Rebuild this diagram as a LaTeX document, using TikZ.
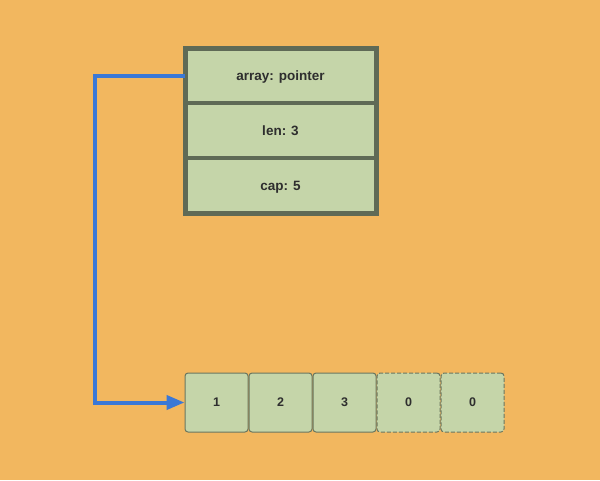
\documentclass[tikz,border=0pt]{standalone}
\usepackage{fontspec}
\setmainfont{Liberation Sans}
\usepackage{xcolor}
\usetikzlibrary{arrows.meta}
\definecolor{sfondo}{HTML}{F2B75F}
\definecolor{verde}{HTML}{C5D5A9}
\definecolor{bordo}{HTML}{5F6A56}
\definecolor{bordocella}{HTML}{6A765F}
\definecolor{blu}{HTML}{3B78D6}
\definecolor{testo}{HTML}{2E2E2E}
\tikzset{
	campo/.style={draw=bordo, fill=verde, line width=4pt, outer sep=0pt,
		minimum width=191pt, minimum height=55pt, inner sep=0pt,
		text height=10pt, text depth=0pt,
		font=\fontsize{13.5}{16}\selectfont\bfseries, text=testo},
	cella/.style={draw=bordocella, fill=verde, line width=1pt, rounded corners=3pt,
		minimum width=63pt, minimum height=59pt, inner sep=0pt,
		font=\fontsize{12.5}{15}\selectfont\bfseries, text=testo},
	vuota/.style={cella, dash pattern=on 4pt off 2pt},
	puntatore/.style={draw=blu, line width=4pt, -{Triangle[length=18pt,width=14pt]}}
}
\begin{document}
\begin{tikzpicture}[x=1pt,y=-1pt]
		%\draw [help lines] (0,0) grid (600,480);
		\useasboundingbox (0,0) rectangle (600,480);
		\fill[sfondo] (0,0) rectangle (600,480);
		
		%SLICE
		\node[campo] (arr) at (280.5,75.5) {array: pointer};
		\node[campo] (len) at (280.5,130.5) {len: 3};
		\node[campo] (cap) at (280.5,185.5) {cap: 5};
		\draw[bordo, line width=5pt] (arr.north west) rectangle (cap.south east);
		
		%ARRAY
		\node[cella] (c1) at (216.5,402.5) {1};
		\node[cella] (c2) at (280.5,402.5) {2};
		\node[cella] (c3) at (344.5,402.5) {3};
		\node[vuota] (c4) at (408.5,402.5) {0};
		\node[vuota] (c5) at (472.5,402.5) {0};
		
		%freccia
		\draw[puntatore] (arr.west) -- ++(-90,0) |- (c1.west);
		
	\end{tikzpicture}
\end{document}
